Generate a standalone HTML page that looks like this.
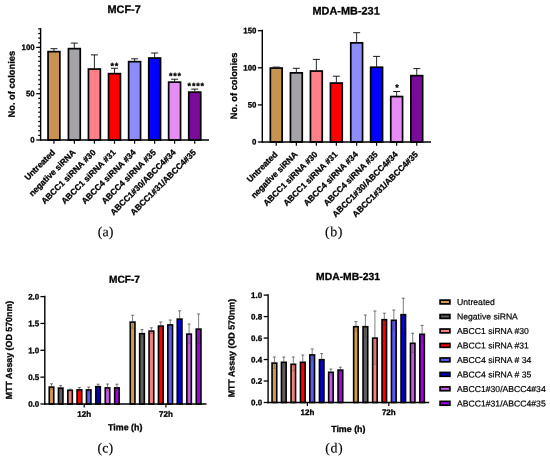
<!DOCTYPE html>
<html><head><meta charset="utf-8"><title>Figure</title>
<style>html,body{margin:0;padding:0;background:#fff;}svg{display:block;}.b{font-family:"Liberation Sans",Arial,Helvetica,sans-serif;font-weight:bold;fill:#000;stroke:#000;stroke-width:.3px;stroke-linejoin:round}.r{font-family:"Liberation Sans",Arial,Helvetica,sans-serif;font-weight:normal;fill:#000}.sf{font-family:"Liberation Serif","DejaVu Serif",serif;font-weight:normal;fill:#000;stroke:#000;stroke-width:.12px}.m{text-anchor:middle}.e{text-anchor:end}</style></head><body>
<svg width="550" height="459" viewBox="0 0 550 459">
<rect width="550" height="459" fill="#fff"/>
<text class="b m" transform="translate(124.1,13.0) rotate(0.04)" font-size="10.9" >MCF-7</text>
<text transform="translate(14.7,84.2) rotate(-89.96)" class="b m" font-size="9.3">No. of colonies</text>
<rect x="48.05" y="51.65" width="11.80" height="88.35" fill="#C8934F" stroke="#000" stroke-width="1.7"/>
<line x1="53.95" y1="51.30" x2="53.95" y2="48.70" stroke="#111" stroke-width="0.9"/>
<line x1="50.45" y1="48.70" x2="57.45" y2="48.70" stroke="#111" stroke-width="0.95"/>
<line x1="53.95" y1="140.00" x2="53.95" y2="143.80" stroke="#000" stroke-width="1.2"/>
<text transform="translate(55.75,153.00) rotate(-45)" class="b e" font-size="8.45">Untreated</text>
<rect x="68.45" y="48.65" width="11.80" height="91.35" fill="#A5A3A8" stroke="#000" stroke-width="1.7"/>
<line x1="74.35" y1="48.30" x2="74.35" y2="43.10" stroke="#111" stroke-width="0.9"/>
<line x1="70.85" y1="43.10" x2="77.85" y2="43.10" stroke="#111" stroke-width="0.95"/>
<line x1="74.35" y1="140.00" x2="74.35" y2="143.80" stroke="#000" stroke-width="1.2"/>
<text transform="translate(76.15,153.00) rotate(-45)" class="b e" font-size="8.45">negative siRNA</text>
<rect x="88.45" y="69.05" width="11.90" height="70.95" fill="#FF8088" stroke="#000" stroke-width="1.7"/>
<line x1="94.40" y1="68.70" x2="94.40" y2="54.90" stroke="#111" stroke-width="0.9"/>
<line x1="90.90" y1="54.90" x2="97.90" y2="54.90" stroke="#111" stroke-width="0.95"/>
<line x1="94.40" y1="140.00" x2="94.40" y2="143.80" stroke="#000" stroke-width="1.2"/>
<text transform="translate(96.20,153.00) rotate(-45)" class="b e" font-size="8.45">ABCC1 siRNA #30</text>
<rect x="108.55" y="73.65" width="11.90" height="66.35" fill="#FF0000" stroke="#000" stroke-width="1.7"/>
<line x1="114.50" y1="73.30" x2="114.50" y2="68.30" stroke="#111" stroke-width="0.9"/>
<line x1="111.00" y1="68.30" x2="118.00" y2="68.30" stroke="#111" stroke-width="0.95"/>
<line x1="114.50" y1="140.00" x2="114.50" y2="143.80" stroke="#000" stroke-width="1.2"/>
<text transform="translate(116.30,153.00) rotate(-45)" class="b e" font-size="8.45">ABCC1 siRNA #31</text>
<rect x="128.65" y="61.65" width="11.90" height="78.35" fill="#8C8CFA" stroke="#000" stroke-width="1.7"/>
<line x1="134.60" y1="61.30" x2="134.60" y2="58.80" stroke="#111" stroke-width="0.9"/>
<line x1="131.10" y1="58.80" x2="138.10" y2="58.80" stroke="#111" stroke-width="0.95"/>
<line x1="134.60" y1="140.00" x2="134.60" y2="143.80" stroke="#000" stroke-width="1.2"/>
<text transform="translate(136.40,153.00) rotate(-45)" class="b e" font-size="8.45">ABCC4 siRNA #34</text>
<rect x="148.75" y="58.05" width="11.80" height="81.95" fill="#0000FF" stroke="#000" stroke-width="1.7"/>
<line x1="154.65" y1="57.70" x2="154.65" y2="53.00" stroke="#111" stroke-width="0.9"/>
<line x1="151.15" y1="53.00" x2="158.15" y2="53.00" stroke="#111" stroke-width="0.95"/>
<line x1="154.65" y1="140.00" x2="154.65" y2="143.80" stroke="#000" stroke-width="1.2"/>
<text transform="translate(156.45,153.00) rotate(-45)" class="b e" font-size="8.45">ABCC4 siRNA #35</text>
<rect x="168.65" y="82.15" width="11.90" height="57.85" fill="#E58CF5" stroke="#000" stroke-width="1.7"/>
<line x1="174.60" y1="81.80" x2="174.60" y2="79.20" stroke="#111" stroke-width="0.9"/>
<line x1="171.10" y1="79.20" x2="178.10" y2="79.20" stroke="#111" stroke-width="0.95"/>
<line x1="174.60" y1="140.00" x2="174.60" y2="143.80" stroke="#000" stroke-width="1.2"/>
<text transform="translate(176.40,153.00) rotate(-45)" class="b e" font-size="8.45">ABCC1#30/ABCC4#34</text>
<rect x="188.75" y="92.15" width="12.00" height="47.85" fill="#7A0A9A" stroke="#000" stroke-width="1.7"/>
<line x1="194.75" y1="91.80" x2="194.75" y2="89.10" stroke="#111" stroke-width="0.9"/>
<line x1="191.25" y1="89.10" x2="198.25" y2="89.10" stroke="#111" stroke-width="0.95"/>
<line x1="194.75" y1="140.00" x2="194.75" y2="143.80" stroke="#000" stroke-width="1.2"/>
<text transform="translate(196.55,153.00) rotate(-45)" class="b e" font-size="8.45">ABCC1#31/ABCC4#35</text>
<text class="b m" transform="translate(114.8,69.1) rotate(0.04)" font-size="9" letter-spacing="0.8">**</text>
<text class="b m" transform="translate(175.4,79.0) rotate(0.04)" font-size="9" letter-spacing="0.8">***</text>
<text class="b m" transform="translate(196.2,89.0) rotate(0.04)" font-size="9" letter-spacing="0.8">****</text>
<line x1="40.60" y1="28.15" x2="40.60" y2="140.70" stroke="#000" stroke-width="1.4"/>
<line x1="39.90" y1="140.00" x2="209.00" y2="140.00" stroke="#000" stroke-width="1.4"/>
<line x1="36.20" y1="140.00" x2="40.60" y2="140.00" stroke="#000" stroke-width="1.3"/>
<text class="b e" transform="translate(34.7,142.6) rotate(0.04)" font-size="7.85" >0</text>
<line x1="36.20" y1="93.70" x2="40.60" y2="93.70" stroke="#000" stroke-width="1.3"/>
<text class="b e" transform="translate(34.7,96.29999999999998) rotate(0.04)" font-size="7.85" >50</text>
<line x1="36.20" y1="47.40" x2="40.60" y2="47.40" stroke="#000" stroke-width="1.3"/>
<text class="b e" transform="translate(34.7,49.99999999999999) rotate(0.04)" font-size="7.85" >100</text>
<line x1="38.20" y1="135.37" x2="40.60" y2="135.37" stroke="#000" stroke-width="1.2"/>
<line x1="38.20" y1="130.74" x2="40.60" y2="130.74" stroke="#000" stroke-width="1.2"/>
<line x1="38.20" y1="126.11" x2="40.60" y2="126.11" stroke="#000" stroke-width="1.2"/>
<line x1="38.20" y1="121.48" x2="40.60" y2="121.48" stroke="#000" stroke-width="1.2"/>
<line x1="38.20" y1="116.85" x2="40.60" y2="116.85" stroke="#000" stroke-width="1.2"/>
<line x1="38.20" y1="112.22" x2="40.60" y2="112.22" stroke="#000" stroke-width="1.2"/>
<line x1="38.20" y1="107.59" x2="40.60" y2="107.59" stroke="#000" stroke-width="1.2"/>
<line x1="38.20" y1="102.96" x2="40.60" y2="102.96" stroke="#000" stroke-width="1.2"/>
<line x1="38.20" y1="98.33" x2="40.60" y2="98.33" stroke="#000" stroke-width="1.2"/>
<line x1="38.20" y1="89.07" x2="40.60" y2="89.07" stroke="#000" stroke-width="1.2"/>
<line x1="38.20" y1="84.44" x2="40.60" y2="84.44" stroke="#000" stroke-width="1.2"/>
<line x1="38.20" y1="79.81" x2="40.60" y2="79.81" stroke="#000" stroke-width="1.2"/>
<line x1="38.20" y1="75.18" x2="40.60" y2="75.18" stroke="#000" stroke-width="1.2"/>
<line x1="38.20" y1="70.55" x2="40.60" y2="70.55" stroke="#000" stroke-width="1.2"/>
<line x1="38.20" y1="65.92" x2="40.60" y2="65.92" stroke="#000" stroke-width="1.2"/>
<line x1="38.20" y1="61.29" x2="40.60" y2="61.29" stroke="#000" stroke-width="1.2"/>
<line x1="38.20" y1="56.66" x2="40.60" y2="56.66" stroke="#000" stroke-width="1.2"/>
<line x1="38.20" y1="52.03" x2="40.60" y2="52.03" stroke="#000" stroke-width="1.2"/>
<line x1="38.20" y1="42.77" x2="40.60" y2="42.77" stroke="#000" stroke-width="1.2"/>
<line x1="38.20" y1="38.14" x2="40.60" y2="38.14" stroke="#000" stroke-width="1.2"/>
<line x1="38.20" y1="33.51" x2="40.60" y2="33.51" stroke="#000" stroke-width="1.2"/>
<line x1="38.20" y1="28.88" x2="40.60" y2="28.88" stroke="#000" stroke-width="1.2"/>
<text class="b m" transform="translate(346.1,14.5) rotate(0.04)" font-size="10.9" >MDA-MB-231</text>
<text transform="translate(236.9,85.9) rotate(-89.96)" class="b m" font-size="9.3">No. of colonies</text>
<rect x="270.35" y="68.05" width="11.80" height="73.95" fill="#C8934F" stroke="#000" stroke-width="1.7"/>
<line x1="276.25" y1="67.70" x2="276.25" y2="67.10" stroke="#111" stroke-width="0.9"/>
<line x1="272.75" y1="67.10" x2="279.75" y2="67.10" stroke="#111" stroke-width="0.95"/>
<line x1="276.25" y1="142.00" x2="276.25" y2="145.80" stroke="#000" stroke-width="1.2"/>
<text transform="translate(278.05,155.00) rotate(-45)" class="b e" font-size="8.45">Untreated</text>
<rect x="290.45" y="72.85" width="11.80" height="69.15" fill="#A5A3A8" stroke="#000" stroke-width="1.7"/>
<line x1="296.35" y1="72.50" x2="296.35" y2="68.30" stroke="#111" stroke-width="0.9"/>
<line x1="292.85" y1="68.30" x2="299.85" y2="68.30" stroke="#111" stroke-width="0.95"/>
<line x1="296.35" y1="142.00" x2="296.35" y2="145.80" stroke="#000" stroke-width="1.2"/>
<text transform="translate(298.15,155.00) rotate(-45)" class="b e" font-size="8.45">negative siRNA</text>
<rect x="310.45" y="71.05" width="11.80" height="70.95" fill="#FF8088" stroke="#000" stroke-width="1.7"/>
<line x1="316.35" y1="70.70" x2="316.35" y2="59.40" stroke="#111" stroke-width="0.9"/>
<line x1="312.85" y1="59.40" x2="319.85" y2="59.40" stroke="#111" stroke-width="0.95"/>
<line x1="316.35" y1="142.00" x2="316.35" y2="145.80" stroke="#000" stroke-width="1.2"/>
<text transform="translate(318.15,155.00) rotate(-45)" class="b e" font-size="8.45">ABCC1 siRNA #30</text>
<rect x="330.45" y="83.05" width="11.80" height="58.95" fill="#FF0000" stroke="#000" stroke-width="1.7"/>
<line x1="336.35" y1="82.70" x2="336.35" y2="76.20" stroke="#111" stroke-width="0.9"/>
<line x1="332.85" y1="76.20" x2="339.85" y2="76.20" stroke="#111" stroke-width="0.95"/>
<line x1="336.35" y1="142.00" x2="336.35" y2="145.80" stroke="#000" stroke-width="1.2"/>
<text transform="translate(338.15,155.00) rotate(-45)" class="b e" font-size="8.45">ABCC1 siRNA #31</text>
<rect x="350.75" y="42.85" width="11.80" height="99.15" fill="#8C8CFA" stroke="#000" stroke-width="1.7"/>
<line x1="356.65" y1="42.50" x2="356.65" y2="32.70" stroke="#111" stroke-width="0.9"/>
<line x1="353.15" y1="32.70" x2="360.15" y2="32.70" stroke="#111" stroke-width="0.95"/>
<line x1="356.65" y1="142.00" x2="356.65" y2="145.80" stroke="#000" stroke-width="1.2"/>
<text transform="translate(358.45,155.00) rotate(-45)" class="b e" font-size="8.45">ABCC4 siRNA #34</text>
<rect x="370.65" y="67.25" width="11.90" height="74.75" fill="#0000FF" stroke="#000" stroke-width="1.7"/>
<line x1="376.60" y1="66.90" x2="376.60" y2="56.40" stroke="#111" stroke-width="0.9"/>
<line x1="373.10" y1="56.40" x2="380.10" y2="56.40" stroke="#111" stroke-width="0.95"/>
<line x1="376.60" y1="142.00" x2="376.60" y2="145.80" stroke="#000" stroke-width="1.2"/>
<text transform="translate(378.40,155.00) rotate(-45)" class="b e" font-size="8.45">ABCC4 siRNA #35</text>
<rect x="390.75" y="96.55" width="11.80" height="45.45" fill="#E58CF5" stroke="#000" stroke-width="1.7"/>
<line x1="396.65" y1="96.20" x2="396.65" y2="91.50" stroke="#111" stroke-width="0.9"/>
<line x1="393.15" y1="91.50" x2="400.15" y2="91.50" stroke="#111" stroke-width="0.95"/>
<line x1="396.65" y1="142.00" x2="396.65" y2="145.80" stroke="#000" stroke-width="1.2"/>
<text transform="translate(398.45,155.00) rotate(-45)" class="b e" font-size="8.45">ABCC1#30/ABCC4#34</text>
<rect x="410.85" y="75.65" width="11.80" height="66.35" fill="#7A0A9A" stroke="#000" stroke-width="1.7"/>
<line x1="416.75" y1="75.30" x2="416.75" y2="68.60" stroke="#111" stroke-width="0.9"/>
<line x1="413.25" y1="68.60" x2="420.25" y2="68.60" stroke="#111" stroke-width="0.95"/>
<line x1="416.75" y1="142.00" x2="416.75" y2="145.80" stroke="#000" stroke-width="1.2"/>
<text transform="translate(418.55,155.00) rotate(-45)" class="b e" font-size="8.45">ABCC1#31/ABCC4#35</text>
<text class="b m" transform="translate(397.5,90.5) rotate(0.04)" font-size="9" letter-spacing="0.8">*</text>
<line x1="262.30" y1="29.85" x2="262.30" y2="142.70" stroke="#000" stroke-width="1.4"/>
<line x1="261.60" y1="142.00" x2="431.00" y2="142.00" stroke="#000" stroke-width="1.4"/>
<line x1="257.90" y1="142.00" x2="262.30" y2="142.00" stroke="#000" stroke-width="1.3"/>
<text class="b e" transform="translate(256.40000000000003,144.6) rotate(0.04)" font-size="7.85" >0</text>
<line x1="257.90" y1="104.90" x2="262.30" y2="104.90" stroke="#000" stroke-width="1.3"/>
<text class="b e" transform="translate(256.40000000000003,107.5) rotate(0.04)" font-size="7.85" >50</text>
<line x1="257.90" y1="67.80" x2="262.30" y2="67.80" stroke="#000" stroke-width="1.3"/>
<text class="b e" transform="translate(256.40000000000003,70.39999999999999) rotate(0.04)" font-size="7.85" >100</text>
<line x1="257.90" y1="30.70" x2="262.30" y2="30.70" stroke="#000" stroke-width="1.3"/>
<text class="b e" transform="translate(256.40000000000003,33.300000000000004) rotate(0.04)" font-size="7.85" >150</text>
<text class="b m" transform="translate(124.5,282.8) rotate(0.04)" font-size="10.15" >MCF-7</text>
<text transform="translate(12.0,350.0) rotate(-89.96)" class="b m" font-size="8.85">MTT Assay (OD 570nm)</text>
<rect x="49.25" y="387.10" width="4.50" height="16.90" fill="#D39A4F" stroke="#000" stroke-width="1.6"/>
<rect x="58.45" y="388.10" width="4.50" height="15.90" fill="#5E5E5E" stroke="#000" stroke-width="1.6"/>
<rect x="67.85" y="390.30" width="4.50" height="13.70" fill="#F58080" stroke="#000" stroke-width="1.6"/>
<rect x="77.05" y="389.90" width="4.70" height="14.10" fill="#FF0000" stroke="#000" stroke-width="1.6"/>
<rect x="86.45" y="389.90" width="4.50" height="14.10" fill="#5A5AF5" stroke="#000" stroke-width="1.6"/>
<rect x="95.85" y="386.70" width="4.50" height="17.30" fill="#0000CC" stroke="#000" stroke-width="1.6"/>
<rect x="105.25" y="387.90" width="4.50" height="16.10" fill="#C45AE6" stroke="#000" stroke-width="1.6"/>
<rect x="114.65" y="387.90" width="4.50" height="16.10" fill="#A200E6" stroke="#000" stroke-width="1.6"/>
<rect x="130.25" y="322.10" width="4.70" height="81.90" fill="#D39A4F" stroke="#000" stroke-width="1.6"/>
<rect x="139.65" y="333.70" width="4.70" height="70.30" fill="#5E5E5E" stroke="#000" stroke-width="1.6"/>
<rect x="149.05" y="331.10" width="4.70" height="72.90" fill="#F58080" stroke="#000" stroke-width="1.6"/>
<rect x="158.45" y="326.10" width="4.70" height="77.90" fill="#FF0000" stroke="#000" stroke-width="1.6"/>
<rect x="167.85" y="324.90" width="4.70" height="79.10" fill="#5A5AF5" stroke="#000" stroke-width="1.6"/>
<rect x="177.25" y="319.10" width="4.70" height="84.90" fill="#0000CC" stroke="#000" stroke-width="1.6"/>
<rect x="186.85" y="334.10" width="4.50" height="69.90" fill="#C45AE6" stroke="#000" stroke-width="1.6"/>
<rect x="196.25" y="329.10" width="4.70" height="74.90" fill="#A200E6" stroke="#000" stroke-width="1.6"/>
<line x1="51.50" y1="383.80" x2="51.50" y2="386.40" stroke="#3a3a3a" stroke-width="0.65"/>
<line x1="50.00" y1="383.80" x2="53.00" y2="383.80" stroke="#3a3a3a" stroke-width="0.7"/>
<g opacity="0.45">
<line x1="51.50" y1="386.40" x2="51.50" y2="389.60" stroke="#3a3a3a" stroke-width="0.65"/>
<line x1="50.00" y1="389.60" x2="53.00" y2="389.60" stroke="#3a3a3a" stroke-width="0.7"/>
</g>
<line x1="60.70" y1="385.60" x2="60.70" y2="387.40" stroke="#3a3a3a" stroke-width="0.65"/>
<line x1="59.20" y1="385.60" x2="62.20" y2="385.60" stroke="#3a3a3a" stroke-width="0.7"/>
<g opacity="0.45">
<line x1="60.70" y1="387.40" x2="60.70" y2="389.80" stroke="#3a3a3a" stroke-width="0.65"/>
<line x1="59.20" y1="389.80" x2="62.20" y2="389.80" stroke="#3a3a3a" stroke-width="0.7"/>
</g>
<line x1="70.10" y1="389.20" x2="70.10" y2="389.60" stroke="#3a3a3a" stroke-width="0.65"/>
<line x1="68.60" y1="389.20" x2="71.60" y2="389.20" stroke="#3a3a3a" stroke-width="0.7"/>
<g opacity="0.45">
<line x1="70.10" y1="389.60" x2="70.10" y2="390.60" stroke="#3a3a3a" stroke-width="0.65"/>
<line x1="68.60" y1="390.60" x2="71.60" y2="390.60" stroke="#3a3a3a" stroke-width="0.7"/>
</g>
<line x1="79.40" y1="387.60" x2="79.40" y2="389.20" stroke="#3a3a3a" stroke-width="0.65"/>
<line x1="77.90" y1="387.60" x2="80.90" y2="387.60" stroke="#3a3a3a" stroke-width="0.7"/>
<g opacity="0.45">
<line x1="79.40" y1="389.20" x2="79.40" y2="391.40" stroke="#3a3a3a" stroke-width="0.65"/>
<line x1="77.90" y1="391.40" x2="80.90" y2="391.40" stroke="#3a3a3a" stroke-width="0.7"/>
</g>
<line x1="88.70" y1="387.00" x2="88.70" y2="389.20" stroke="#3a3a3a" stroke-width="0.65"/>
<line x1="87.20" y1="387.00" x2="90.20" y2="387.00" stroke="#3a3a3a" stroke-width="0.7"/>
<g opacity="0.45">
<line x1="88.70" y1="389.20" x2="88.70" y2="392.00" stroke="#3a3a3a" stroke-width="0.65"/>
<line x1="87.20" y1="392.00" x2="90.20" y2="392.00" stroke="#3a3a3a" stroke-width="0.7"/>
</g>
<line x1="98.10" y1="384.20" x2="98.10" y2="386.00" stroke="#3a3a3a" stroke-width="0.65"/>
<line x1="96.60" y1="384.20" x2="99.60" y2="384.20" stroke="#3a3a3a" stroke-width="0.7"/>
<g opacity="0.45">
<line x1="98.10" y1="386.00" x2="98.10" y2="388.40" stroke="#3a3a3a" stroke-width="0.65"/>
<line x1="96.60" y1="388.40" x2="99.60" y2="388.40" stroke="#3a3a3a" stroke-width="0.7"/>
</g>
<line x1="107.50" y1="384.00" x2="107.50" y2="387.20" stroke="#3a3a3a" stroke-width="0.65"/>
<line x1="106.00" y1="384.00" x2="109.00" y2="384.00" stroke="#3a3a3a" stroke-width="0.7"/>
<g opacity="0.45">
<line x1="107.50" y1="387.20" x2="107.50" y2="391.00" stroke="#3a3a3a" stroke-width="0.65"/>
<line x1="106.00" y1="391.00" x2="109.00" y2="391.00" stroke="#3a3a3a" stroke-width="0.7"/>
</g>
<line x1="116.90" y1="384.20" x2="116.90" y2="387.20" stroke="#3a3a3a" stroke-width="0.65"/>
<line x1="115.40" y1="384.20" x2="118.40" y2="384.20" stroke="#3a3a3a" stroke-width="0.7"/>
<g opacity="0.45">
<line x1="116.90" y1="387.20" x2="116.90" y2="390.80" stroke="#3a3a3a" stroke-width="0.65"/>
<line x1="115.40" y1="390.80" x2="118.40" y2="390.80" stroke="#3a3a3a" stroke-width="0.7"/>
</g>
<line x1="132.60" y1="315.20" x2="132.60" y2="321.40" stroke="#3a3a3a" stroke-width="0.65"/>
<line x1="131.10" y1="315.20" x2="134.10" y2="315.20" stroke="#3a3a3a" stroke-width="0.7"/>
<g opacity="0.45">
<line x1="132.60" y1="321.40" x2="132.60" y2="328.20" stroke="#3a3a3a" stroke-width="0.65"/>
<line x1="131.10" y1="328.20" x2="134.10" y2="328.20" stroke="#3a3a3a" stroke-width="0.7"/>
</g>
<line x1="142.00" y1="329.60" x2="142.00" y2="333.00" stroke="#3a3a3a" stroke-width="0.65"/>
<line x1="140.50" y1="329.60" x2="143.50" y2="329.60" stroke="#3a3a3a" stroke-width="0.7"/>
<g opacity="0.45">
<line x1="142.00" y1="333.00" x2="142.00" y2="337.00" stroke="#3a3a3a" stroke-width="0.65"/>
<line x1="140.50" y1="337.00" x2="143.50" y2="337.00" stroke="#3a3a3a" stroke-width="0.7"/>
</g>
<line x1="151.40" y1="327.80" x2="151.40" y2="330.40" stroke="#3a3a3a" stroke-width="0.65"/>
<line x1="149.90" y1="327.80" x2="152.90" y2="327.80" stroke="#3a3a3a" stroke-width="0.7"/>
<g opacity="0.45">
<line x1="151.40" y1="330.40" x2="151.40" y2="333.60" stroke="#3a3a3a" stroke-width="0.65"/>
<line x1="149.90" y1="333.60" x2="152.90" y2="333.60" stroke="#3a3a3a" stroke-width="0.7"/>
</g>
<line x1="160.80" y1="322.00" x2="160.80" y2="325.40" stroke="#3a3a3a" stroke-width="0.65"/>
<line x1="159.30" y1="322.00" x2="162.30" y2="322.00" stroke="#3a3a3a" stroke-width="0.7"/>
<g opacity="0.45">
<line x1="160.80" y1="325.40" x2="160.80" y2="329.40" stroke="#3a3a3a" stroke-width="0.65"/>
<line x1="159.30" y1="329.40" x2="162.30" y2="329.40" stroke="#3a3a3a" stroke-width="0.7"/>
</g>
<line x1="170.20" y1="320.00" x2="170.20" y2="324.20" stroke="#3a3a3a" stroke-width="0.65"/>
<line x1="168.70" y1="320.00" x2="171.70" y2="320.00" stroke="#3a3a3a" stroke-width="0.7"/>
<g opacity="0.45">
<line x1="170.20" y1="324.20" x2="170.20" y2="329.00" stroke="#3a3a3a" stroke-width="0.65"/>
<line x1="168.70" y1="329.00" x2="171.70" y2="329.00" stroke="#3a3a3a" stroke-width="0.7"/>
</g>
<line x1="179.60" y1="310.80" x2="179.60" y2="318.40" stroke="#3a3a3a" stroke-width="0.65"/>
<line x1="178.10" y1="310.80" x2="181.10" y2="310.80" stroke="#3a3a3a" stroke-width="0.7"/>
<g opacity="0.45">
<line x1="179.60" y1="318.40" x2="179.60" y2="326.60" stroke="#3a3a3a" stroke-width="0.65"/>
<line x1="178.10" y1="326.60" x2="181.10" y2="326.60" stroke="#3a3a3a" stroke-width="0.7"/>
</g>
<line x1="189.10" y1="324.00" x2="189.10" y2="333.40" stroke="#3a3a3a" stroke-width="0.65"/>
<line x1="187.60" y1="324.00" x2="190.60" y2="324.00" stroke="#3a3a3a" stroke-width="0.7"/>
<g opacity="0.45">
<line x1="189.10" y1="333.40" x2="189.10" y2="343.40" stroke="#3a3a3a" stroke-width="0.65"/>
<line x1="187.60" y1="343.40" x2="190.60" y2="343.40" stroke="#3a3a3a" stroke-width="0.7"/>
</g>
<line x1="198.60" y1="314.00" x2="198.60" y2="328.40" stroke="#3a3a3a" stroke-width="0.65"/>
<line x1="197.10" y1="314.00" x2="200.10" y2="314.00" stroke="#3a3a3a" stroke-width="0.7"/>
<g opacity="0.45">
<line x1="198.60" y1="328.40" x2="198.60" y2="343.40" stroke="#3a3a3a" stroke-width="0.65"/>
<line x1="197.10" y1="343.40" x2="200.10" y2="343.40" stroke="#3a3a3a" stroke-width="0.7"/>
</g>
<line x1="44.80" y1="295.85" x2="44.80" y2="404.70" stroke="#000" stroke-width="1.4"/>
<line x1="44.10" y1="404.00" x2="206.50" y2="404.00" stroke="#000" stroke-width="1.4"/>
<line x1="40.40" y1="404.00" x2="44.80" y2="404.00" stroke="#000" stroke-width="1.3"/>
<text class="b e" transform="translate(39.3,406.85) rotate(0.04)" font-size="8.0" >0.0</text>
<line x1="40.40" y1="377.15" x2="44.80" y2="377.15" stroke="#000" stroke-width="1.3"/>
<text class="b e" transform="translate(39.3,380.0) rotate(0.04)" font-size="8.0" >0.5</text>
<line x1="40.40" y1="350.30" x2="44.80" y2="350.30" stroke="#000" stroke-width="1.3"/>
<text class="b e" transform="translate(39.3,353.15000000000003) rotate(0.04)" font-size="8.0" >1.0</text>
<line x1="40.40" y1="323.45" x2="44.80" y2="323.45" stroke="#000" stroke-width="1.3"/>
<text class="b e" transform="translate(39.3,326.3) rotate(0.04)" font-size="8.0" >1.5</text>
<line x1="40.40" y1="296.60" x2="44.80" y2="296.60" stroke="#000" stroke-width="1.3"/>
<text class="b e" transform="translate(39.3,299.45000000000005) rotate(0.04)" font-size="8.0" >2.0</text>
<line x1="84.20" y1="404.00" x2="84.20" y2="407.60" stroke="#000" stroke-width="1.2"/>
<text class="b m" transform="translate(84.2,416.8) rotate(0.04)" font-size="8.0" >12h</text>
<line x1="165.90" y1="404.00" x2="165.90" y2="407.60" stroke="#000" stroke-width="1.2"/>
<text class="b m" transform="translate(165.9,416.8) rotate(0.04)" font-size="8.0" >72h</text>
<text class="b m" transform="translate(125.2,430.2) rotate(0.04)" font-size="8.9" >Time (h)</text>
<text class="b m" transform="translate(348.0,279.9) rotate(0.04)" font-size="10.35" >MDA-MB-231</text>
<text transform="translate(234.5,348.1) rotate(-89.96)" class="b m" font-size="8.85">MTT Assay (OD 570nm)</text>
<rect x="272.05" y="363.10" width="4.70" height="39.40" fill="#D39A4F" stroke="#000" stroke-width="1.6"/>
<rect x="281.45" y="362.30" width="4.70" height="40.20" fill="#5E5E5E" stroke="#000" stroke-width="1.6"/>
<rect x="291.05" y="364.30" width="4.50" height="38.20" fill="#F58080" stroke="#000" stroke-width="1.6"/>
<rect x="300.45" y="362.30" width="4.70" height="40.20" fill="#FF0000" stroke="#000" stroke-width="1.6"/>
<rect x="309.85" y="354.90" width="4.70" height="47.60" fill="#5A5AF5" stroke="#000" stroke-width="1.6"/>
<rect x="319.45" y="359.70" width="4.50" height="42.80" fill="#0000CC" stroke="#000" stroke-width="1.6"/>
<rect x="328.65" y="372.30" width="4.50" height="30.20" fill="#C45AE6" stroke="#000" stroke-width="1.6"/>
<rect x="338.05" y="370.10" width="4.70" height="32.40" fill="#A200E6" stroke="#000" stroke-width="1.6"/>
<rect x="353.65" y="326.70" width="4.50" height="75.80" fill="#D39A4F" stroke="#000" stroke-width="1.6"/>
<rect x="363.05" y="326.70" width="4.70" height="75.80" fill="#5E5E5E" stroke="#000" stroke-width="1.6"/>
<rect x="372.65" y="338.10" width="4.50" height="64.40" fill="#F58080" stroke="#000" stroke-width="1.6"/>
<rect x="382.05" y="319.70" width="4.50" height="82.80" fill="#FF0000" stroke="#000" stroke-width="1.6"/>
<rect x="391.45" y="320.30" width="4.70" height="82.20" fill="#5A5AF5" stroke="#000" stroke-width="1.6"/>
<rect x="401.05" y="314.70" width="4.50" height="87.80" fill="#0000CC" stroke="#000" stroke-width="1.6"/>
<rect x="410.45" y="343.30" width="4.50" height="59.20" fill="#C45AE6" stroke="#000" stroke-width="1.6"/>
<rect x="419.85" y="334.30" width="4.50" height="68.20" fill="#A200E6" stroke="#000" stroke-width="1.6"/>
<line x1="274.40" y1="357.00" x2="274.40" y2="362.40" stroke="#3a3a3a" stroke-width="0.65"/>
<line x1="272.90" y1="357.00" x2="275.90" y2="357.00" stroke="#3a3a3a" stroke-width="0.7"/>
<g opacity="0.45">
<line x1="274.40" y1="362.40" x2="274.40" y2="368.40" stroke="#3a3a3a" stroke-width="0.65"/>
<line x1="272.90" y1="368.40" x2="275.90" y2="368.40" stroke="#3a3a3a" stroke-width="0.7"/>
</g>
<line x1="283.80" y1="357.00" x2="283.80" y2="361.60" stroke="#3a3a3a" stroke-width="0.65"/>
<line x1="282.30" y1="357.00" x2="285.30" y2="357.00" stroke="#3a3a3a" stroke-width="0.7"/>
<g opacity="0.45">
<line x1="283.80" y1="361.60" x2="283.80" y2="366.80" stroke="#3a3a3a" stroke-width="0.65"/>
<line x1="282.30" y1="366.80" x2="285.30" y2="366.80" stroke="#3a3a3a" stroke-width="0.7"/>
</g>
<line x1="293.30" y1="357.00" x2="293.30" y2="363.60" stroke="#3a3a3a" stroke-width="0.65"/>
<line x1="291.80" y1="357.00" x2="294.80" y2="357.00" stroke="#3a3a3a" stroke-width="0.7"/>
<g opacity="0.45">
<line x1="293.30" y1="363.60" x2="293.30" y2="370.80" stroke="#3a3a3a" stroke-width="0.65"/>
<line x1="291.80" y1="370.80" x2="294.80" y2="370.80" stroke="#3a3a3a" stroke-width="0.7"/>
</g>
<line x1="302.80" y1="355.00" x2="302.80" y2="361.60" stroke="#3a3a3a" stroke-width="0.65"/>
<line x1="301.30" y1="355.00" x2="304.30" y2="355.00" stroke="#3a3a3a" stroke-width="0.7"/>
<g opacity="0.45">
<line x1="302.80" y1="361.60" x2="302.80" y2="368.80" stroke="#3a3a3a" stroke-width="0.65"/>
<line x1="301.30" y1="368.80" x2="304.30" y2="368.80" stroke="#3a3a3a" stroke-width="0.7"/>
</g>
<line x1="312.20" y1="349.00" x2="312.20" y2="354.20" stroke="#3a3a3a" stroke-width="0.65"/>
<line x1="310.70" y1="349.00" x2="313.70" y2="349.00" stroke="#3a3a3a" stroke-width="0.7"/>
<g opacity="0.45">
<line x1="312.20" y1="354.20" x2="312.20" y2="360.00" stroke="#3a3a3a" stroke-width="0.65"/>
<line x1="310.70" y1="360.00" x2="313.70" y2="360.00" stroke="#3a3a3a" stroke-width="0.7"/>
</g>
<line x1="321.70" y1="353.60" x2="321.70" y2="359.00" stroke="#3a3a3a" stroke-width="0.65"/>
<line x1="320.20" y1="353.60" x2="323.20" y2="353.60" stroke="#3a3a3a" stroke-width="0.7"/>
<g opacity="0.45">
<line x1="321.70" y1="359.00" x2="321.70" y2="365.00" stroke="#3a3a3a" stroke-width="0.65"/>
<line x1="320.20" y1="365.00" x2="323.20" y2="365.00" stroke="#3a3a3a" stroke-width="0.7"/>
</g>
<line x1="330.90" y1="369.00" x2="330.90" y2="371.60" stroke="#3a3a3a" stroke-width="0.65"/>
<line x1="329.40" y1="369.00" x2="332.40" y2="369.00" stroke="#3a3a3a" stroke-width="0.7"/>
<g opacity="0.45">
<line x1="330.90" y1="371.60" x2="330.90" y2="374.80" stroke="#3a3a3a" stroke-width="0.65"/>
<line x1="329.40" y1="374.80" x2="332.40" y2="374.80" stroke="#3a3a3a" stroke-width="0.7"/>
</g>
<line x1="340.40" y1="367.20" x2="340.40" y2="369.40" stroke="#3a3a3a" stroke-width="0.65"/>
<line x1="338.90" y1="367.20" x2="341.90" y2="367.20" stroke="#3a3a3a" stroke-width="0.7"/>
<g opacity="0.45">
<line x1="340.40" y1="369.40" x2="340.40" y2="372.20" stroke="#3a3a3a" stroke-width="0.65"/>
<line x1="338.90" y1="372.20" x2="341.90" y2="372.20" stroke="#3a3a3a" stroke-width="0.7"/>
</g>
<line x1="355.90" y1="321.60" x2="355.90" y2="326.00" stroke="#3a3a3a" stroke-width="0.65"/>
<line x1="354.40" y1="321.60" x2="357.40" y2="321.60" stroke="#3a3a3a" stroke-width="0.7"/>
<g opacity="0.45">
<line x1="355.90" y1="326.00" x2="355.90" y2="331.00" stroke="#3a3a3a" stroke-width="0.65"/>
<line x1="354.40" y1="331.00" x2="357.40" y2="331.00" stroke="#3a3a3a" stroke-width="0.7"/>
</g>
<line x1="365.40" y1="315.00" x2="365.40" y2="326.00" stroke="#3a3a3a" stroke-width="0.65"/>
<line x1="363.90" y1="315.00" x2="366.90" y2="315.00" stroke="#3a3a3a" stroke-width="0.7"/>
<g opacity="0.45">
<line x1="365.40" y1="326.00" x2="365.40" y2="337.60" stroke="#3a3a3a" stroke-width="0.65"/>
<line x1="363.90" y1="337.60" x2="366.90" y2="337.60" stroke="#3a3a3a" stroke-width="0.7"/>
</g>
<line x1="374.90" y1="311.00" x2="374.90" y2="337.40" stroke="#3a3a3a" stroke-width="0.65"/>
<line x1="373.40" y1="311.00" x2="376.40" y2="311.00" stroke="#3a3a3a" stroke-width="0.7"/>
<g opacity="0.45">
<line x1="374.90" y1="337.40" x2="374.90" y2="364.40" stroke="#3a3a3a" stroke-width="0.65"/>
<line x1="373.40" y1="364.40" x2="376.40" y2="364.40" stroke="#3a3a3a" stroke-width="0.7"/>
</g>
<line x1="384.30" y1="313.20" x2="384.30" y2="319.00" stroke="#3a3a3a" stroke-width="0.65"/>
<line x1="382.80" y1="313.20" x2="385.80" y2="313.20" stroke="#3a3a3a" stroke-width="0.7"/>
<g opacity="0.45">
<line x1="384.30" y1="319.00" x2="384.30" y2="325.40" stroke="#3a3a3a" stroke-width="0.65"/>
<line x1="382.80" y1="325.40" x2="385.80" y2="325.40" stroke="#3a3a3a" stroke-width="0.7"/>
</g>
<line x1="393.80" y1="310.00" x2="393.80" y2="319.60" stroke="#3a3a3a" stroke-width="0.65"/>
<line x1="392.30" y1="310.00" x2="395.30" y2="310.00" stroke="#3a3a3a" stroke-width="0.7"/>
<g opacity="0.45">
<line x1="393.80" y1="319.60" x2="393.80" y2="329.80" stroke="#3a3a3a" stroke-width="0.65"/>
<line x1="392.30" y1="329.80" x2="395.30" y2="329.80" stroke="#3a3a3a" stroke-width="0.7"/>
</g>
<line x1="403.30" y1="298.20" x2="403.30" y2="314.00" stroke="#3a3a3a" stroke-width="0.65"/>
<line x1="401.80" y1="298.20" x2="404.80" y2="298.20" stroke="#3a3a3a" stroke-width="0.7"/>
<g opacity="0.45">
<line x1="403.30" y1="314.00" x2="403.30" y2="330.40" stroke="#3a3a3a" stroke-width="0.65"/>
<line x1="401.80" y1="330.40" x2="404.80" y2="330.40" stroke="#3a3a3a" stroke-width="0.7"/>
</g>
<line x1="412.70" y1="333.20" x2="412.70" y2="342.60" stroke="#3a3a3a" stroke-width="0.65"/>
<line x1="411.20" y1="333.20" x2="414.20" y2="333.20" stroke="#3a3a3a" stroke-width="0.7"/>
<g opacity="0.45">
<line x1="412.70" y1="342.60" x2="412.70" y2="352.60" stroke="#3a3a3a" stroke-width="0.65"/>
<line x1="411.20" y1="352.60" x2="414.20" y2="352.60" stroke="#3a3a3a" stroke-width="0.7"/>
</g>
<line x1="422.10" y1="325.40" x2="422.10" y2="333.60" stroke="#3a3a3a" stroke-width="0.65"/>
<line x1="420.60" y1="325.40" x2="423.60" y2="325.40" stroke="#3a3a3a" stroke-width="0.7"/>
<g opacity="0.45">
<line x1="422.10" y1="333.60" x2="422.10" y2="342.40" stroke="#3a3a3a" stroke-width="0.65"/>
<line x1="420.60" y1="342.40" x2="423.60" y2="342.40" stroke="#3a3a3a" stroke-width="0.7"/>
</g>
<line x1="268.10" y1="294.35" x2="268.10" y2="403.20" stroke="#000" stroke-width="1.4"/>
<line x1="267.40" y1="402.50" x2="429.20" y2="402.50" stroke="#000" stroke-width="1.4"/>
<line x1="263.70" y1="402.50" x2="268.10" y2="402.50" stroke="#000" stroke-width="1.3"/>
<text class="b e" transform="translate(262.1,405.35) rotate(0.04)" font-size="8.0" >0.0</text>
<line x1="263.70" y1="381.02" x2="268.10" y2="381.02" stroke="#000" stroke-width="1.3"/>
<text class="b e" transform="translate(262.1,383.87) rotate(0.04)" font-size="8.0" >0.2</text>
<line x1="263.70" y1="359.54" x2="268.10" y2="359.54" stroke="#000" stroke-width="1.3"/>
<text class="b e" transform="translate(262.1,362.39) rotate(0.04)" font-size="8.0" >0.4</text>
<line x1="263.70" y1="338.06" x2="268.10" y2="338.06" stroke="#000" stroke-width="1.3"/>
<text class="b e" transform="translate(262.1,340.91) rotate(0.04)" font-size="8.0" >0.6</text>
<line x1="263.70" y1="316.58" x2="268.10" y2="316.58" stroke="#000" stroke-width="1.3"/>
<text class="b e" transform="translate(262.1,319.43) rotate(0.04)" font-size="8.0" >0.8</text>
<line x1="263.70" y1="295.10" x2="268.10" y2="295.10" stroke="#000" stroke-width="1.3"/>
<text class="b e" transform="translate(262.1,297.95000000000005) rotate(0.04)" font-size="8.0" >1.0</text>
<line x1="307.40" y1="402.50" x2="307.40" y2="406.10" stroke="#000" stroke-width="1.2"/>
<text class="b m" transform="translate(307.4,415.0) rotate(0.04)" font-size="8.0" >12h</text>
<line x1="388.80" y1="402.50" x2="388.80" y2="406.10" stroke="#000" stroke-width="1.2"/>
<text class="b m" transform="translate(388.8,415.0) rotate(0.04)" font-size="8.0" >72h</text>
<text class="b m" transform="translate(348.3,432.0) rotate(0.04)" font-size="8.9" >Time (h)</text>
<rect x="440.10" y="300.10" width="9.80" height="3.80" fill="#D39A4F" stroke="#000" stroke-width="1.7"/>
<text class="r" transform="translate(457.0,305.1) rotate(0.04)" font-size="8.65" stroke="#000" stroke-width="0.2">Untreated</text>
<rect x="440.10" y="314.57" width="9.80" height="3.80" fill="#5E5E5E" stroke="#000" stroke-width="1.7"/>
<text class="r" transform="translate(457.0,319.57000000000005) rotate(0.04)" font-size="8.65" stroke="#000" stroke-width="0.2">Negative siRNA</text>
<rect x="440.10" y="329.04" width="9.80" height="3.80" fill="#F58080" stroke="#000" stroke-width="1.7"/>
<text class="r" transform="translate(457.0,334.04) rotate(0.04)" font-size="8.65" stroke="#000" stroke-width="0.2">ABCC1 siRNA #30</text>
<rect x="440.10" y="343.51" width="9.80" height="3.80" fill="#FF0000" stroke="#000" stroke-width="1.7"/>
<text class="r" transform="translate(457.0,348.51000000000005) rotate(0.04)" font-size="8.65" stroke="#000" stroke-width="0.2">ABCC1 siRNA #31</text>
<rect x="440.10" y="357.98" width="9.80" height="3.80" fill="#5A5AF5" stroke="#000" stroke-width="1.7"/>
<text class="r" transform="translate(457.0,362.98) rotate(0.04)" font-size="8.65" stroke="#000" stroke-width="0.2">ABCC4 siRNA # 34</text>
<rect x="440.10" y="372.45" width="9.80" height="3.80" fill="#0000CC" stroke="#000" stroke-width="1.7"/>
<text class="r" transform="translate(457.0,377.45000000000005) rotate(0.04)" font-size="8.65" stroke="#000" stroke-width="0.2">ABCC4 siRNA # 35</text>
<rect x="440.10" y="386.92" width="9.80" height="3.80" fill="#C45AE6" stroke="#000" stroke-width="1.7"/>
<text class="r" transform="translate(457.0,391.92) rotate(0.04)" font-size="8.65" stroke="#000" stroke-width="0.2">ABCC1#30/ABCC4#34</text>
<rect x="440.10" y="401.39" width="9.80" height="3.80" fill="#A200E6" stroke="#000" stroke-width="1.7"/>
<text class="r" transform="translate(457.0,406.39000000000004) rotate(0.04)" font-size="8.65" stroke="#000" stroke-width="0.2">ABCC1#31/ABCC4#35</text>
<text class="sf m" transform="translate(105.6,236.3) rotate(0.04)" font-size="14" >(a)</text>
<text class="sf m" transform="translate(334.0,236.3) rotate(0.04)" font-size="14" letter-spacing="0.6">(b)</text>
<text class="sf m" transform="translate(105.3,452.4) rotate(0.04)" font-size="14" >(c)</text>
<text class="sf m" transform="translate(334.2,452.4) rotate(0.04)" font-size="14" letter-spacing="0.6">(d)</text>
</svg></body></html>
